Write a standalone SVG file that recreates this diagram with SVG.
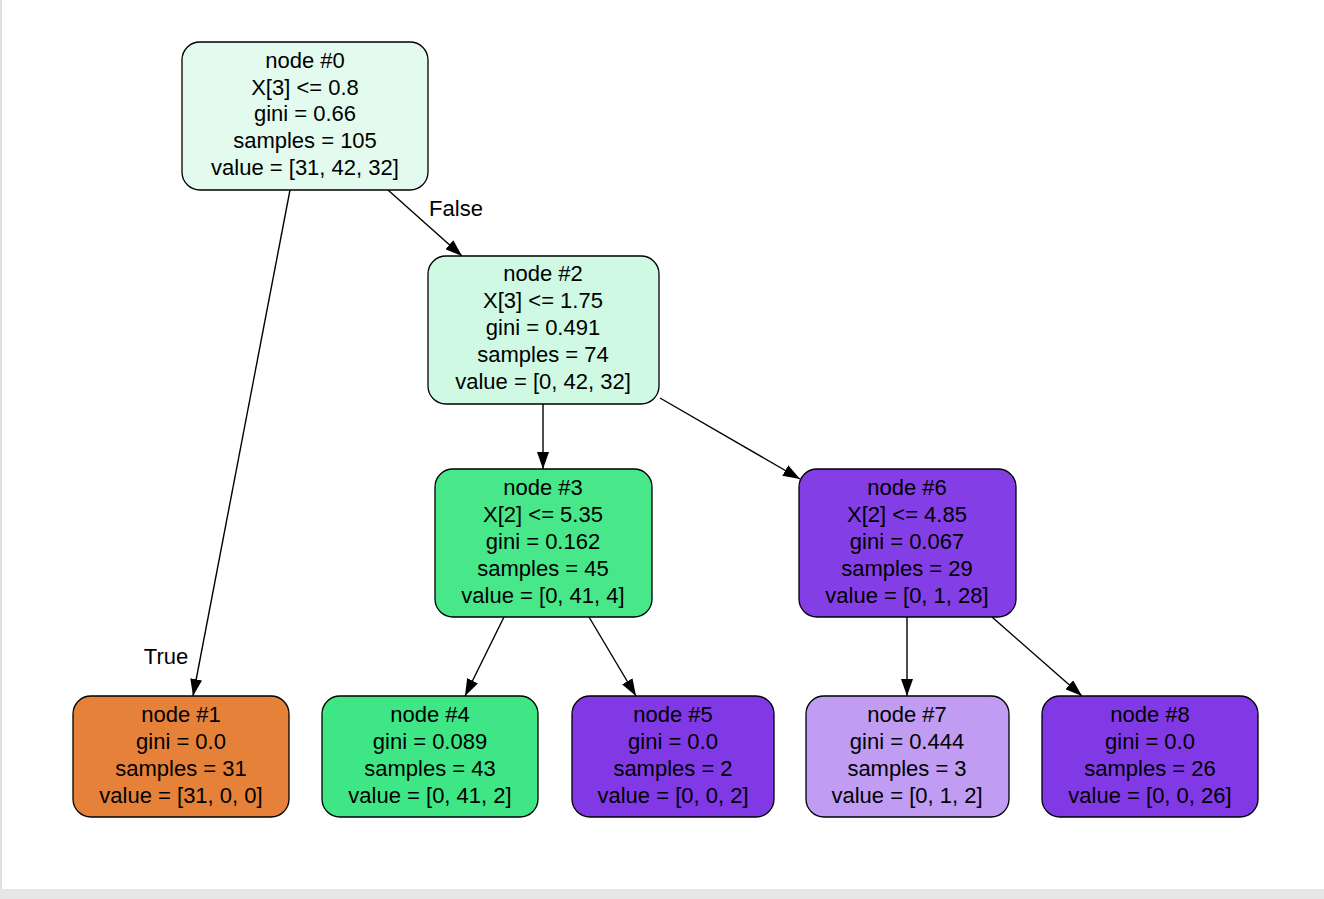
<svg xmlns="http://www.w3.org/2000/svg" width="1324" height="899" viewBox="0 0 1324 899">
<style>
.n rect{stroke:#000;stroke-width:1.3}
.n text,.l{font-family:"Liberation Sans",Arial,sans-serif;font-size:22px;text-anchor:middle;fill:#000}
.e line{stroke:#000;stroke-width:1.4;marker-end:url(#a)}
</style>
<defs><marker id="a" markerUnits="userSpaceOnUse" markerWidth="18" markerHeight="12" refX="17" refY="6" orient="auto"><path d="M0,0 L17,6 L0,12 Z" fill="#000"/></marker></defs>
<rect width="1324" height="899" fill="#fff"/>
<rect x="0" y="0" width="2" height="889" fill="#e0e0e0"/>
<rect x="0" y="889" width="1324" height="10" fill="#e6e6e6"/>
<g class="e">
<line x1="290" y1="190" x2="193" y2="696"/>
<line x1="388" y1="190" x2="462" y2="256"/>
<line x1="543" y1="404" x2="543" y2="469"/>
<line x1="660" y1="398" x2="800" y2="479"/>
<line x1="504" y1="617" x2="465" y2="696"/>
<line x1="589" y1="617" x2="636" y2="696"/>
<line x1="907" y1="617" x2="907" y2="696"/>
<line x1="992" y1="617" x2="1082" y2="696"/>
</g>
<text class="l" x="456" y="216">False</text>
<text class="l" x="166" y="664">True</text>
<g id="node0" class="n"><rect x="182" y="42" width="246" height="148" rx="18" fill="#e3fbee"/>
<text x="305" y="68">node #0</text><text x="305" y="95">X[3] &lt;= 0.8</text><text x="305" y="121">gini = 0.66</text><text x="305" y="148">samples = 105</text><text x="305" y="175">value = [31, 42, 32]</text></g>
<g id="node2" class="n"><rect x="428" y="256" width="231" height="148" rx="18" fill="#cff9e3"/>
<text x="543" y="281">node #2</text><text x="543" y="308">X[3] &lt;= 1.75</text><text x="543" y="335">gini = 0.491</text><text x="543" y="362">samples = 74</text><text x="543" y="389">value = [0, 42, 32]</text></g>
<g id="node3" class="n"><rect x="435" y="469" width="217" height="148" rx="18" fill="#47e78a"/>
<text x="543" y="495">node #3</text><text x="543" y="522">X[2] &lt;= 5.35</text><text x="543" y="549">gini = 0.162</text><text x="543" y="576">samples = 45</text><text x="543" y="603">value = [0, 41, 4]</text></g>
<g id="node6" class="n"><rect x="799" y="469" width="217" height="148" rx="18" fill="#843ee6"/>
<text x="907" y="495">node #6</text><text x="907" y="522">X[2] &lt;= 4.85</text><text x="907" y="549">gini = 0.067</text><text x="907" y="576">samples = 29</text><text x="907" y="603">value = [0, 1, 28]</text></g>
<g id="node1" class="n"><rect x="73" y="696" width="216" height="121" rx="18" fill="#e58139"/>
<text x="181" y="722">node #1</text><text x="181" y="749">gini = 0.0</text><text x="181" y="776">samples = 31</text><text x="181" y="803">value = [31, 0, 0]</text></g>
<g id="node4" class="n"><rect x="322" y="696" width="216" height="121" rx="18" fill="#3fe685"/>
<text x="430" y="722">node #4</text><text x="430" y="749">gini = 0.089</text><text x="430" y="776">samples = 43</text><text x="430" y="803">value = [0, 41, 2]</text></g>
<g id="node5" class="n"><rect x="572" y="696" width="202" height="121" rx="18" fill="#8139e5"/>
<text x="673" y="722">node #5</text><text x="673" y="749">gini = 0.0</text><text x="673" y="776">samples = 2</text><text x="673" y="803">value = [0, 0, 2]</text></g>
<g id="node7" class="n"><rect x="806" y="696" width="203" height="121" rx="18" fill="#c09cf2"/>
<text x="907" y="722">node #7</text><text x="907" y="749">gini = 0.444</text><text x="907" y="776">samples = 3</text><text x="907" y="803">value = [0, 1, 2]</text></g>
<g id="node8" class="n"><rect x="1042" y="696" width="216" height="121" rx="18" fill="#8139e5"/>
<text x="1150" y="722">node #8</text><text x="1150" y="749">gini = 0.0</text><text x="1150" y="776">samples = 26</text><text x="1150" y="803">value = [0, 0, 26]</text></g>
</svg>
